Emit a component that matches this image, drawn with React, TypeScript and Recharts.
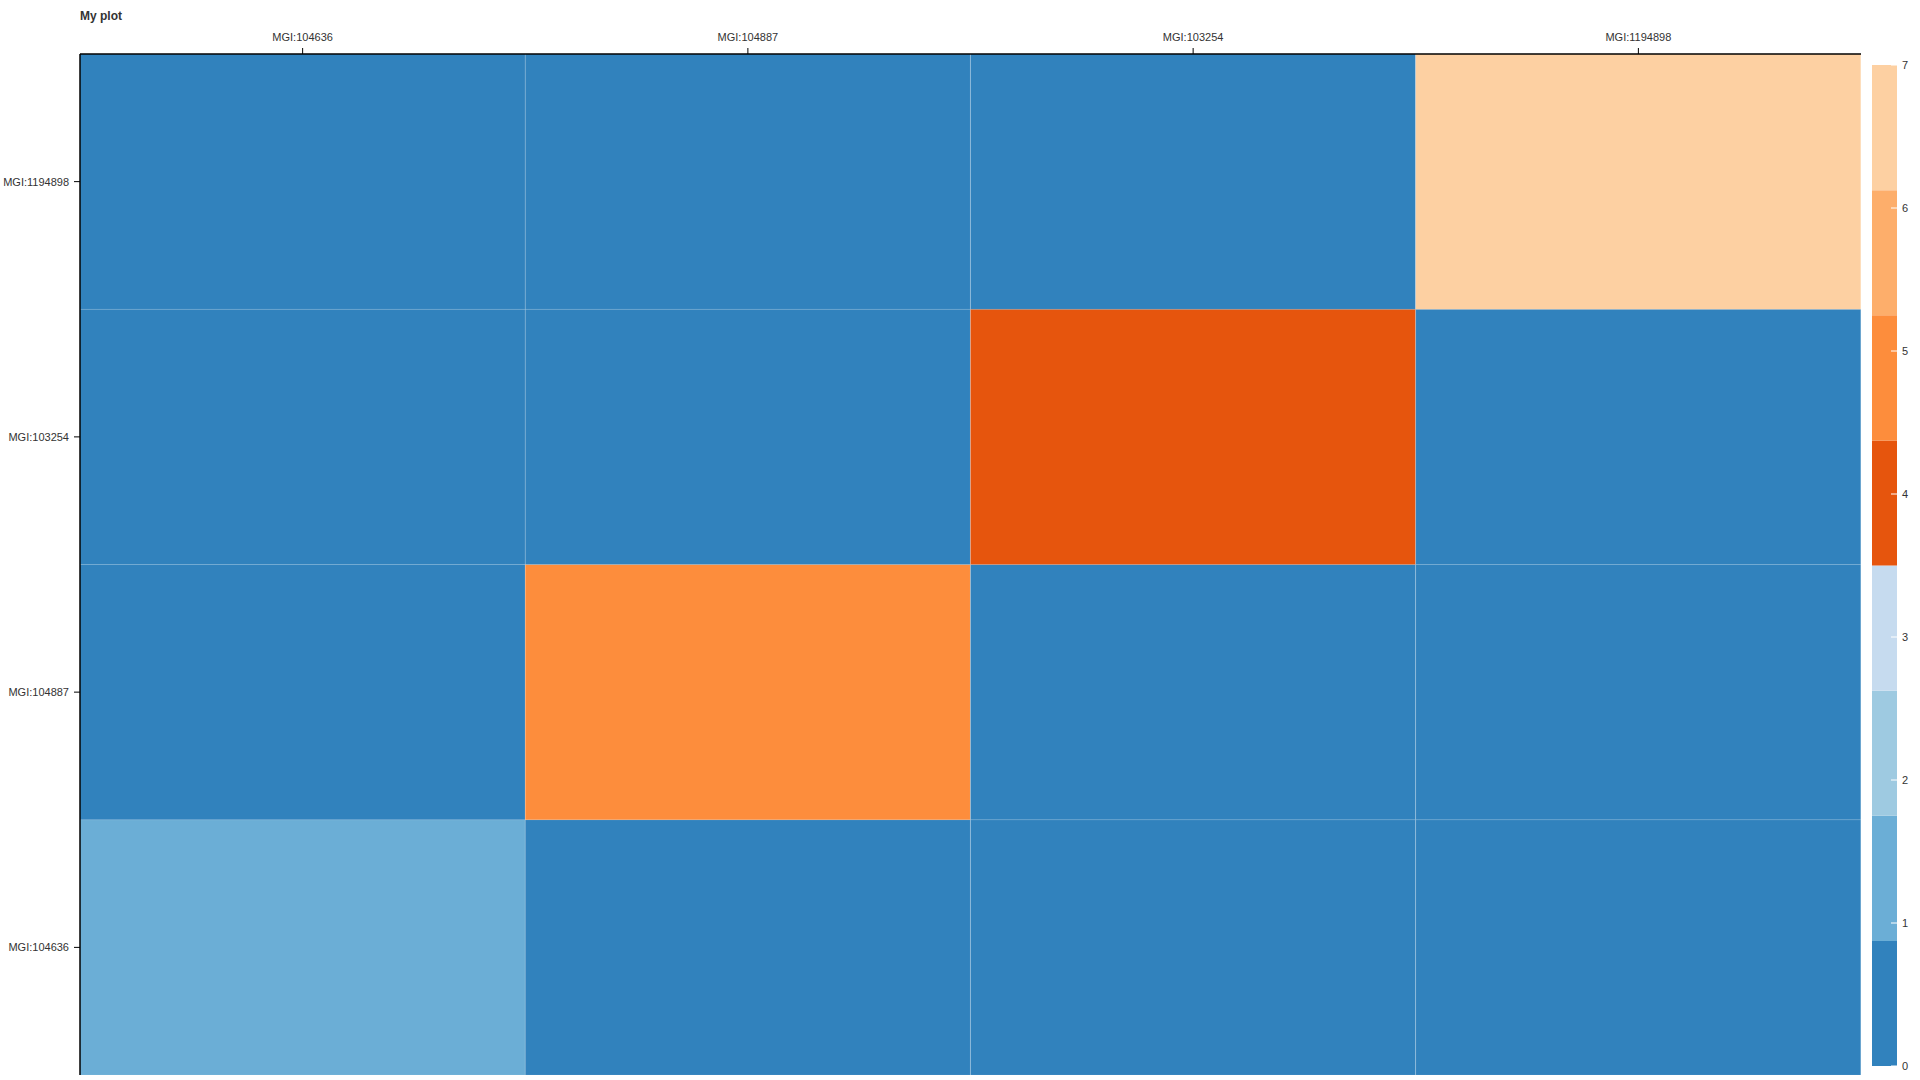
import React from "react";
import { BarChart, Bar, Cell, XAxis, YAxis } from "recharts";

// columns (left to right) and rows (bottom to top)
const colLabels = ["MGI:104636", "MGI:104887", "MGI:103254", "MGI:1194898"];
const rowLabels = ["MGI:104636", "MGI:104887", "MGI:103254", "MGI:1194898"];

// cell values per row, one entry per column
const rowMGI104636 = [1, 0, 0, 0];
const rowMGI104887 = [0, 5, 0, 0];
const rowMGI103254 = [0, 0, 4, 0];
const rowMGI1194898 = [0, 0, 0, 7];
const rows = [rowMGI104636, rowMGI104887, rowMGI103254, rowMGI1194898];

// colour scale (quantized over 0..7)
const palette = [
  "#3182bd",
  "#6baed6",
  "#9ecae1",
  "#c6dbef",
  "#e6550d",
  "#fd8d3c",
  "#fdae6b",
  "#fdd0a2",
];
const scaleMin = 0;
const scaleMax = 7;
const legendTicks = [0, 1, 2, 3, 4, 5, 6, 7];

const FONT = "'Liberation Sans', Arial, Helvetica, sans-serif";
const TEXT = "#333";

const colorFor = (v: number) => {
  const step = (scaleMax - scaleMin) / palette.length;
  const i = Math.min(palette.length - 1, Math.floor((v - scaleMin) / step));
  return palette[Math.max(0, i)];
};

// each cell is one unit tall in a stack of rows
const heatData = colLabels.map((col) => {
  const d: Record<string, string | number> = { col };
  rows.forEach((_, r) => {
    d[`r${r}`] = 1;
  });
  return d;
});

const legendData = [
  palette.reduce(
    (acc, _, i) => {
      acc[`b${i}`] = (scaleMax - scaleMin) / palette.length;
      return acc;
    },
    { name: "scale" } as Record<string, string | number>
  ),
];

const LegendTick = (props: any) => {
  const { x, y, payload } = props;
  return (
    <g>
      <line x1={x - 6} x2={x} y1={y} y2={y} stroke="#fff" strokeWidth={1} />
      <text
        x={x + 5}
        y={y}
        dy="0.355em"
        textAnchor="start"
        fontSize={11}
        fontFamily={FONT}
        fill={TEXT}
      >
        {payload.value}
      </text>
    </g>
  );
};

export default function App() {
  return (
    <div
      style={{
        position: "absolute",
        left: 0,
        top: 0,
        width: 1920,
        height: 1080,
        background: "#fff",
        fontFamily: FONT,
      }}
    >
      <svg
        width={400}
        height={30}
        style={{ position: "absolute", left: 0, top: 0 }}
      >
        <text
          x={80}
          y={20}
          fontSize={12}
          fontWeight="bold"
          fontFamily={FONT}
          fill={TEXT}
        >
          My plot
        </text>
      </svg>

      <div style={{ position: "absolute", left: 0, top: 0 }}>
        <BarChart
          width={1861}
          height={1080}
          data={heatData}
          margin={{ top: 0, right: 0, bottom: 5, left: 0 }}
          barCategoryGap={0}
          barGap={0}
        >
          {rows.map((vals, r) => (
            <Bar
              key={`r${r}`}
              dataKey={`r${r}`}
              stackId="heat"
              isAnimationActive={false}
            >
              {vals.map((v, c) => (
                <Cell
                  key={`c${c}`}
                  fill={colorFor(v)}
                  stroke="rgba(255,255,255,0.08)"
                  strokeWidth={1}
                />
              ))}
            </Bar>
          ))}
          <XAxis
            dataKey="col"
            type="category"
            orientation="top"
            height={54}
            interval={0}
            tickSize={6}
            tickMargin={7}
            axisLine={{ stroke: "#000", strokeWidth: 1.5 }}
            tickLine={{ stroke: "#000" }}
            tick={{ fontSize: 11, fill: TEXT, fontFamily: FONT }}
          />
          <YAxis
            type="number"
            domain={[0, rowLabels.length]}
            ticks={rowLabels.map((_, i) => i + 0.5)}
            tickFormatter={(v: number) => rowLabels[Math.floor(v)]}
            width={80}
            interval={0}
            tickSize={6}
            tickMargin={5}
            axisLine={{ stroke: "#000", strokeWidth: 1.5 }}
            tickLine={{ stroke: "#000" }}
            tick={{ fontSize: 11, fill: TEXT, fontFamily: FONT }}
          />
        </BarChart>
      </div>

      <div style={{ position: "absolute", left: 1860, top: 0 }}>
        <BarChart
          width={60}
          height={1080}
          data={legendData}
          margin={{ top: 65, right: 0, bottom: 14, left: 12 }}
          barCategoryGap={0}
          barGap={0}
        >
          <XAxis dataKey="name" hide />
          <YAxis
            type="number"
            orientation="right"
            domain={[scaleMin, scaleMax]}
            ticks={legendTicks}
            interval={0}
            width={23}
            axisLine={false}
            tickLine={false}
            tickSize={0}
            tickMargin={0}
            tick={<LegendTick />}
          />
          {palette.map((color, i) => (
            <Bar
              key={`b${i}`}
              dataKey={`b${i}`}
              stackId="scale"
              fill={color}
              isAnimationActive={false}
            />
          ))}
        </BarChart>
      </div>
    </div>
  );
}
